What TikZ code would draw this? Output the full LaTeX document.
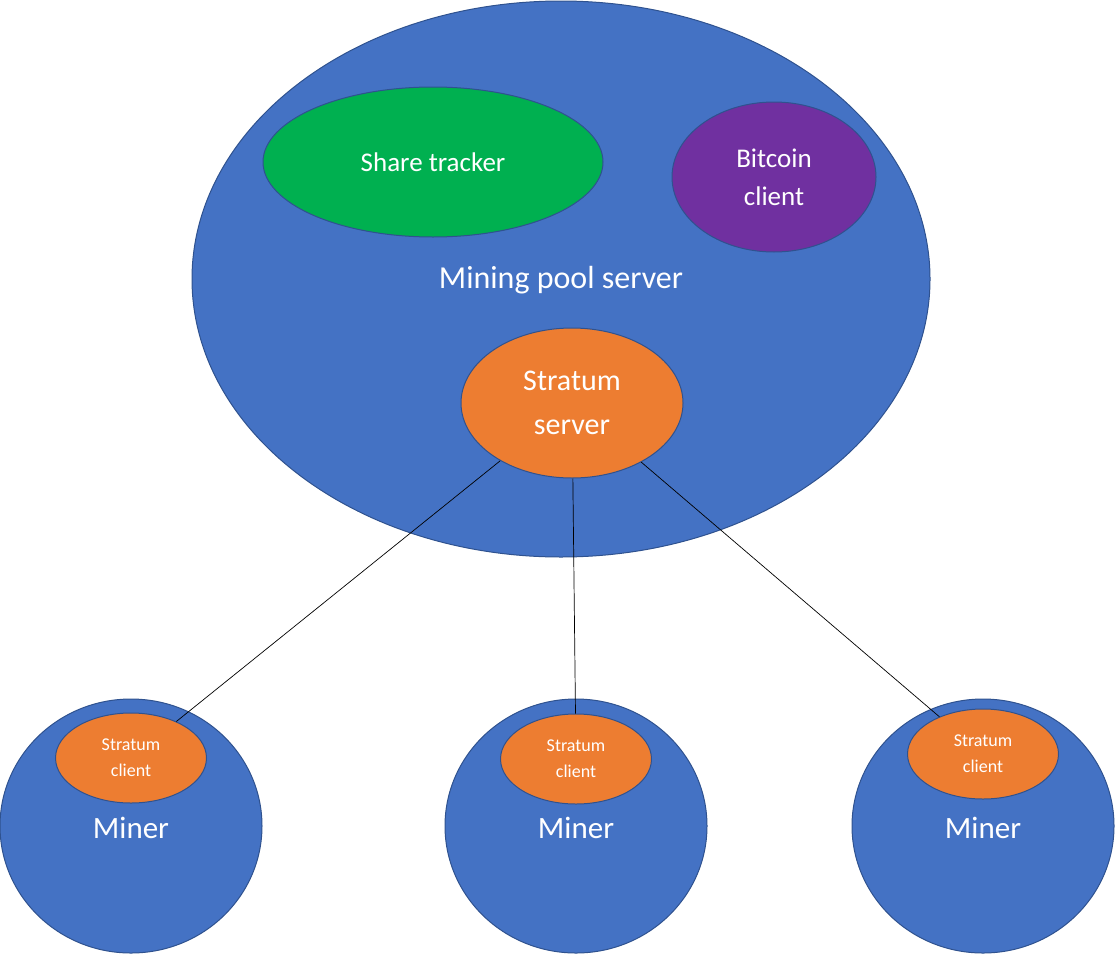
\documentclass[tikz,border=0pt]{standalone}
\usepackage{fontspec}
\setmainfont{Carlito}
\usetikzlibrary{shapes.geometric}
\definecolor{fillblue}{HTML}{4472C4}
\definecolor{edgeblue}{HTML}{2F528F}
\definecolor{sgreen}{HTML}{00B050}
\definecolor{spurple}{HTML}{7030A0}
\definecolor{sorange}{HTML}{ED7D31}
\begin{document}
\begin{tikzpicture}[x=1pt,y=-1pt,
  el/.style={ellipse,draw=edgeblue,line width=1pt,inner sep=0pt,text=white,align=center},
  lbl/.style={text=white,align=center}]
\useasboundingbox (0,0) rectangle (1115,953);
\node[el,fill=fillblue,minimum width=738pt,minimum height=556pt] (pool) at (561,279) {};
\node[el,fill=sgreen,minimum width=340pt,minimum height=150pt,font=\fontsize{27}{30}\selectfont] (share) at (433,162) {Share tracker};
\node[el,fill=spurple,minimum width=204pt,minimum height=150pt,font=\fontsize{27}{38}\selectfont] (btc) at (774,177) {Bitcoin\\client};
\node[lbl,font=\fontsize{32}{36}\selectfont] (pl) at (561,280) {Mining pool server};
\node[el,fill=sorange,minimum width=222pt,minimum height=150pt,font=\fontsize{30}{44}\selectfont] (ss) at (572,403) {Stratum\\server};
\foreach \n/\x/\cy in {1/131/758,2/576/759,3/983/754}{
  \node[el,fill=fillblue,minimum width=262pt,minimum height=254pt] (m\n) at (\x,826) {};
  \node[lbl,font=\fontsize{31}{36}\selectfont] (ml\n) at (\x,828) {Miner};
  \node[el,fill=sorange,minimum width=151pt,minimum height=90pt,font=\fontsize{18}{26}\selectfont] (sc\n) at (\x,\cy) {Stratum\\client};
}
\draw[black,line width=0.7pt] (ss) -- (sc1);
\draw[black,line width=0.7pt] (ss) -- (sc2);
\draw[black,line width=0.7pt] (ss) -- (sc3);
\end{tikzpicture}
\end{document}
